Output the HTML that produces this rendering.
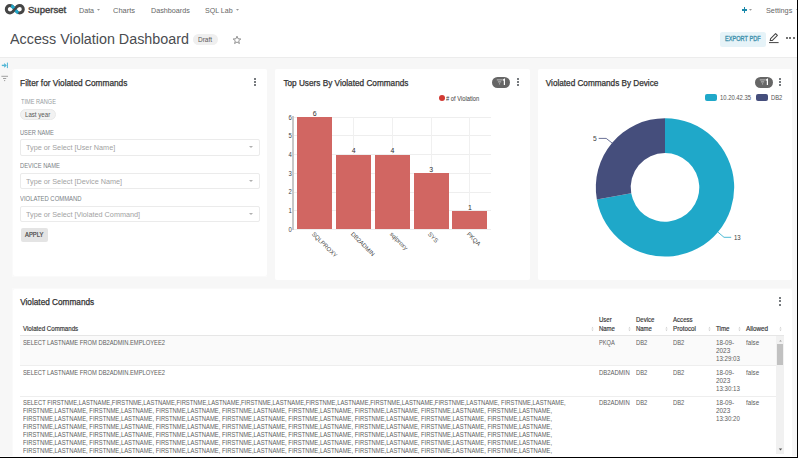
<!DOCTYPE html>
<html><head><meta charset="utf-8"><title>Access Violation Dashboard</title>
<style>
html,body{margin:0;padding:0;}
body{width:798px;height:458px;overflow:hidden;position:relative;background:#f7f7f7;font-family:"Liberation Sans",sans-serif;}
.t{position:absolute;white-space:nowrap;}
.r{position:absolute;}
svg{position:absolute;}
</style></head><body>

<div class="r" style="left:0px;top:0px;width:798px;height:57px;background:#ffffff;"></div>
<div class="r" style="left:0px;top:57px;width:798px;height:1px;background:#ececec;"></div>
<svg style="left:0;top:0" width="30" height="20" viewBox="0 0 30 20">
<path d="M10 5.6 C7.9 5.6 6.3 7.2 6.3 9.25 C6.3 11.3 7.9 12.9 10 12.9 C12.2 12.9 13.5 11.2 14.8 9.25 C16.1 7.3 17.4 5.6 19.6 5.6 C21.7 5.6 23.3 7.2 23.3 9.25 C23.3 11.3 21.7 12.9 19.6 12.9 C17.4 12.9 16.1 11.2 14.8 9.25 C13.5 7.3 12.2 5.6 10 5.6 Z" fill="none" stroke="#454545" stroke-width="3.0"/>
<path d="M11.2 5.75 C12.3 6.2 13.2 7.3 14.0 8.3" fill="none" stroke="#20a7c9" stroke-width="3.0"/>
<path d="M15.6 10.2 C16.4 11.2 17.3 12.3 18.4 12.75" fill="none" stroke="#20a7c9" stroke-width="3.0"/>
</svg>
<div class="t" style="left:27.80px;top:4.92px;font-size:9.9px;line-height:9.9px;color:#484848;transform:scaleX(0.9640);transform-origin:0 0;-webkit-text-stroke:0.45px #484848;">Superset</div>
<div class="t" style="left:78.60px;top:6.71px;font-size:7.9px;line-height:7.9px;color:#666666;transform:scaleX(0.9049);transform-origin:0 0;">Data</div>
<div class="t" style="left:113.30px;top:6.71px;font-size:7.9px;line-height:7.9px;color:#666666;transform:scaleX(0.9498);transform-origin:0 0;">Charts</div>
<div class="t" style="left:150.80px;top:6.71px;font-size:7.9px;line-height:7.9px;color:#666666;transform:scaleX(0.9108);transform-origin:0 0;">Dashboards</div>
<div class="t" style="left:205.30px;top:6.71px;font-size:7.9px;line-height:7.9px;color:#666666;transform:scaleX(0.8935);transform-origin:0 0;">SQL Lab</div>
<svg style="left:96.70px;top:9.30px" width="3.0" height="1.8" viewBox="0 0 3.0 1.8"><path d="M0 0 L3.0 0 L1.5 1.8 Z" fill="#999"/></svg>
<svg style="left:235.50px;top:9.30px" width="3.0" height="1.8" viewBox="0 0 3.0 1.8"><path d="M0 0 L3.0 0 L1.5 1.8 Z" fill="#999"/></svg>
<svg style="left:749.00px;top:9.10px" width="3.0" height="1.8" viewBox="0 0 3.0 1.8"><path d="M0 0 L3.0 0 L1.5 1.8 Z" fill="#999"/></svg>
<svg style="left:796.00px;top:9.10px" width="3.0" height="1.8" viewBox="0 0 3.0 1.8"><path d="M0 0 L3.0 0 L1.5 1.8 Z" fill="#999"/></svg>
<div class="r" style="left:741.8px;top:9.0px;width:5.300000000000068px;height:1.8000000000000007px;background:#1b89aa;"></div>
<div class="r" style="left:743.55px;top:7.1px;width:1.8000000000000682px;height:5.700000000000001px;background:#1b89aa;"></div>
<div class="t" style="left:766.40px;top:6.71px;font-size:7.9px;line-height:7.9px;color:#666666;transform:scaleX(0.9213);transform-origin:0 0;">Settings</div>
<div class="t" style="left:9.50px;top:32.35px;font-size:14.0px;line-height:14.0px;color:#4a4c50;transform:scaleX(1.0237);transform-origin:0 0;">Access Violation Dashboard</div>
<div class="r" style="left:193.3px;top:34.2px;width:24.5px;height:10.699999999999996px;background:#efefef;border-radius:5.5px;"></div>
<div class="t" style="left:198.40px;top:36.56px;font-size:6.9px;line-height:6.9px;color:#595959;transform:scaleX(0.9430);transform-origin:0 0;">Draft</div>
<svg style="left:232px;top:35px" width="10" height="10" viewBox="0 0 10 10"><path d="M5 1.2 L6.1 3.8 L8.8 4.0 L6.7 5.8 L7.4 8.5 L5 7.0 L2.6 8.5 L3.3 5.8 L1.2 4.0 L3.9 3.8 Z" fill="none" stroke="#777" stroke-width="0.8" stroke-linejoin="round"/></svg>
<div class="r" style="left:719.6px;top:31.8px;width:46.19999999999993px;height:14.999999999999996px;background:#e6f3f8;border-radius:2.5px;"></div>
<div class="t" style="left:724.60px;top:35.37px;font-size:7.0px;line-height:7.0px;color:#388eab;transform:scaleX(0.8004);transform-origin:0 0;-webkit-text-stroke:0.3px #388eab;">EXPORT PDF</div>
<svg style="left:767px;top:32px" width="13" height="12" viewBox="0 0 13 12"><path d="M3.2 8.6 L3.6 6.6 L8.6 1.6 L10.4 3.4 L5.4 8.4 Z" fill="none" stroke="#444" stroke-width="1.05" stroke-linejoin="round"/><path d="M2 10.6 L11.6 10.6" stroke="#444" stroke-width="1.0"/></svg>
<div class="r" style="left:785.90px;top:37.1px;width:2.0px;height:2.0px;border-radius:50%;background:#444"></div>
<div class="r" style="left:789.30px;top:37.1px;width:2.0px;height:2.0px;border-radius:50%;background:#444"></div>
<div class="r" style="left:792.80px;top:37.1px;width:2.0px;height:2.0px;border-radius:50%;background:#444"></div>
<svg style="left:0;top:60px" width="12" height="24" viewBox="0 0 12 24"><path d="M1.8 5.4 L4.6 5.4" stroke="#4fb5d5" stroke-width="1.4"/><path d="M4.2 3.0 L6.8 5.4 L4.2 7.8 Z" fill="#4fb5d5"/><path d="M7.4 2.6 L7.4 8.1" stroke="#4fb5d5" stroke-width="1.0"/>
<path d="M1.4 16.3 L8.0 16.3 M3.0 18.5 L6.2 18.5 M4.0 20.6 L5.2 20.6" stroke="#8a8a8a" stroke-width="0.8"/></svg>
<div class="r" style="left:12px;top:69px;width:1px;height:208px;background:#fafafa;"></div>
<div class="r" style="left:13px;top:69px;width:254px;height:207px;background:#ffffff;border-radius:2px;"></div>
<div class="r" style="left:13px;top:276px;width:254px;height:1px;background:#fafafa;"></div>
<div class="r" style="left:275px;top:69px;width:255px;height:211px;background:#ffffff;border-radius:2px;"></div>
<div class="r" style="left:538px;top:69px;width:254px;height:211px;background:#ffffff;border-radius:2px;"></div>
<div class="r" style="left:12px;top:288px;width:1px;height:170px;background:#fafafa;"></div>
<div class="r" style="left:12px;top:288px;width:780px;height:1px;background:#fafafa;"></div>
<div class="r" style="left:13px;top:289px;width:779px;height:169px;background:#ffffff;border-radius:2px;"></div>
<div class="t" style="left:20.10px;top:78.87px;font-size:8.3px;line-height:8.3px;color:#333333;-webkit-text-stroke:0.25px #333;">Filter for Violated Commands</div>
<div class="r" style="left:254.20px;top:78.30px;width:2.0px;height:2.0px;border-radius:50%;background:#4a4f55"></div>
<div class="r" style="left:254.20px;top:81.30px;width:2.0px;height:2.0px;border-radius:50%;background:#4a4f55"></div>
<div class="r" style="left:254.20px;top:84.30px;width:2.0px;height:2.0px;border-radius:50%;background:#4a4f55"></div>
<div class="t" style="left:20.60px;top:99.10px;font-size:6.5px;line-height:6.5px;color:#969ca0;transform:scaleX(0.8628);transform-origin:0 0;">TIME RANGE</div>
<div class="r" style="left:20px;top:108.8px;width:36px;height:11.400000000000006px;background:#f2f2f2;border-radius:6px;box-sizing:border-box;border:0.8px solid #e9e9e9;"></div>
<div class="t" style="left:25.20px;top:111.84px;font-size:6.8px;line-height:6.8px;color:#5a5a5a;transform:scaleX(0.9009);transform-origin:0 0;">Last year</div>
<div class="t" style="left:20.40px;top:129.90px;font-size:6.5px;line-height:6.5px;color:#7a8186;transform:scaleX(0.8772);transform-origin:0 0;">USER NAME</div>
<div class="t" style="left:20.30px;top:162.90px;font-size:6.5px;line-height:6.5px;color:#7a8186;transform:scaleX(0.8909);transform-origin:0 0;">DEVICE NAME</div>
<div class="t" style="left:20.20px;top:196.20px;font-size:6.5px;line-height:6.5px;color:#7a8186;transform:scaleX(0.9074);transform-origin:0 0;">VIOLATED COMMAND</div>
<div class="r" style="left:20px;top:139.3px;width:239.5px;height:16.7px;box-sizing:border-box;border:1.1px solid #ebebeb;border-radius:2px;background:#fff"></div>
<div class="t" style="left:25.90px;top:144.37px;font-size:7.6px;line-height:7.6px;color:#a2a2a2;transform:scaleX(0.9566);transform-origin:0 0;">Type or Select [User Name]</div>
<svg style="left:249.00px;top:146.45px" width="4.0" height="2.0" viewBox="0 0 4.0 2.0"><path d="M0 0 L4.0 0 L2.0 2.0 Z" fill="#b0b0b0"/></svg>
<div class="r" style="left:20px;top:172.6px;width:239.5px;height:16.8px;box-sizing:border-box;border:1.1px solid #ebebeb;border-radius:2px;background:#fff"></div>
<div class="t" style="left:25.90px;top:177.67px;font-size:7.6px;line-height:7.6px;color:#a2a2a2;transform:scaleX(0.9566);transform-origin:0 0;">Type or Select [Device Name]</div>
<svg style="left:249.00px;top:179.80px" width="4.0" height="2.0" viewBox="0 0 4.0 2.0"><path d="M0 0 L4.0 0 L2.0 2.0 Z" fill="#b0b0b0"/></svg>
<div class="r" style="left:20px;top:205.6px;width:239.5px;height:16.7px;box-sizing:border-box;border:1.1px solid #ebebeb;border-radius:2px;background:#fff"></div>
<div class="t" style="left:25.90px;top:210.67px;font-size:7.6px;line-height:7.6px;color:#a2a2a2;transform:scaleX(0.9566);transform-origin:0 0;">Type or Select [Violated Command]</div>
<svg style="left:249.00px;top:212.75px" width="4.0" height="2.0" viewBox="0 0 4.0 2.0"><path d="M0 0 L4.0 0 L2.0 2.0 Z" fill="#b0b0b0"/></svg>
<div class="r" style="left:20.5px;top:228px;width:27.700000000000003px;height:13.699999999999989px;background:#e4e4e4;border-radius:2px;"></div>
<div class="t" style="left:25.00px;top:232.11px;font-size:6.6px;line-height:6.6px;color:#444;transform:scaleX(0.8850);transform-origin:0 0;-webkit-text-stroke:0.2px #444;">APPLY</div>
<div class="t" style="left:283.40px;top:79.94px;font-size:8.22px;line-height:8.22px;color:#333333;-webkit-text-stroke:0.25px #333;">Top Users By Violated Commands</div>
<div class="r" style="left:491.9px;top:76.8px;width:18.100000000000023px;height:11.200000000000003px;background:#666666;border-radius:6px;"></div>
<svg style="left:491.90px;top:76.80px" width="18.10" height="11.20" viewBox="0 0 18.10 11.20"><path d="M4.8 2.9 L10.3 2.9 M5.9 4.9 L9.2 4.9 M7.0 6.9 L8.1 6.9" stroke="#d8d8d8" stroke-width="0.8"/><path d="M10.8 3.3 L12.4 2.3 L12.4 8.1" fill="none" stroke="#fff" stroke-width="1.2" stroke-linejoin="miter"/></svg>
<div class="r" style="left:517.40px;top:78.30px;width:2.0px;height:2.0px;border-radius:50%;background:#4a4f55"></div>
<div class="r" style="left:517.40px;top:81.30px;width:2.0px;height:2.0px;border-radius:50%;background:#4a4f55"></div>
<div class="r" style="left:517.40px;top:84.30px;width:2.0px;height:2.0px;border-radius:50%;background:#4a4f55"></div>
<div class="r" style="left:438.8px;top:95.4px;width:6.0px;height:6.0px;border-radius:50%;background:#d23a33"></div>
<div class="t" style="left:445.80px;top:95.91px;font-size:6.6px;line-height:6.6px;color:#3a3a3a;transform:scaleX(0.8727);transform-origin:0 0;"># of Violation</div>
<div class="r" style="left:294px;top:229.0px;width:197.3px;height:1.0px;background:#eeeeee;"></div>
<div class="r" style="left:294px;top:210.3px;width:197.3px;height:1.0px;background:#eeeeee;"></div>
<div class="r" style="left:294px;top:191.6px;width:197.3px;height:1.0px;background:#eeeeee;"></div>
<div class="r" style="left:294px;top:172.8px;width:197.3px;height:1.0px;background:#eeeeee;"></div>
<div class="r" style="left:294px;top:154.1px;width:197.3px;height:1.0px;background:#eeeeee;"></div>
<div class="r" style="left:294px;top:135.4px;width:197.3px;height:1.0px;background:#eeeeee;"></div>
<div class="r" style="left:294px;top:116.7px;width:197.3px;height:1.0px;background:#eeeeee;"></div>
<div class="r" style="left:314.3px;top:117.18px;width:1.0px;height:112.32px;background:#f0f0f0;"></div>
<div class="r" style="left:353.08000000000004px;top:117.18px;width:1.0px;height:112.32px;background:#f0f0f0;"></div>
<div class="r" style="left:391.86px;top:117.18px;width:1.0px;height:112.32px;background:#f0f0f0;"></div>
<div class="r" style="left:430.64px;top:117.18px;width:1.0px;height:112.32px;background:#f0f0f0;"></div>
<div class="r" style="left:469.42px;top:117.18px;width:1.0px;height:112.32px;background:#f0f0f0;"></div>
<div class="r" style="left:292.3px;top:116.18px;width:1.599999999999966px;height:113.82px;background:#c8c8c8;"></div>
<div class="t" style="right:506.70px;top:226.84px;font-size:6.8px;line-height:6.8px;color:#444;transform:scaleX(0.8726);transform-origin:100% 0;">0</div>
<div class="t" style="right:506.70px;top:208.12px;font-size:6.8px;line-height:6.8px;color:#444;transform:scaleX(0.8726);transform-origin:100% 0;">1</div>
<div class="t" style="right:506.70px;top:189.40px;font-size:6.8px;line-height:6.8px;color:#444;transform:scaleX(0.8726);transform-origin:100% 0;">2</div>
<div class="t" style="right:506.70px;top:170.68px;font-size:6.8px;line-height:6.8px;color:#444;transform:scaleX(0.8726);transform-origin:100% 0;">3</div>
<div class="t" style="right:506.70px;top:151.96px;font-size:6.8px;line-height:6.8px;color:#444;transform:scaleX(0.8726);transform-origin:100% 0;">4</div>
<div class="t" style="right:506.70px;top:133.24px;font-size:6.8px;line-height:6.8px;color:#444;transform:scaleX(0.8726);transform-origin:100% 0;">5</div>
<div class="t" style="right:506.70px;top:114.52px;font-size:6.8px;line-height:6.8px;color:#444;transform:scaleX(0.8726);transform-origin:100% 0;">6</div>
<div class="r" style="left:297.3px;top:117.2px;width:35.099999999999966px;height:112.3px;background:#d16662;"></div>
<div class="t" style="left:264.80px;width:100px;text-align:center;top:110.05px;font-size:7.0px;line-height:7.0px;color:#333;">6</div>
<div class="t" style="left:315.00px;top:231.40px;font-size:6px;line-height:6px;color:#4a4a4a;transform-origin:0 0;transform:rotate(45deg);">SQLPROXY</div>
<div class="r" style="left:336.1px;top:154.6px;width:35.099999999999966px;height:74.9px;background:#d16662;"></div>
<div class="t" style="left:303.58px;width:100px;text-align:center;top:147.49px;font-size:7.0px;line-height:7.0px;color:#333;">4</div>
<div class="t" style="left:353.78px;top:231.40px;font-size:6px;line-height:6px;color:#4a4a4a;transform-origin:0 0;transform:rotate(45deg);">DB2ADMIN</div>
<div class="r" style="left:374.9px;top:154.6px;width:35.10000000000002px;height:74.9px;background:#d16662;"></div>
<div class="t" style="left:342.36px;width:100px;text-align:center;top:147.49px;font-size:7.0px;line-height:7.0px;color:#333;">4</div>
<div class="t" style="left:392.56px;top:231.40px;font-size:6px;line-height:6px;color:#4a4a4a;transform-origin:0 0;transform:rotate(45deg);">sqlproxy</div>
<div class="r" style="left:413.6px;top:173.3px;width:35.099999999999966px;height:56.19999999999999px;background:#d16662;"></div>
<div class="t" style="left:381.14px;width:100px;text-align:center;top:166.21px;font-size:7.0px;line-height:7.0px;color:#333;">3</div>
<div class="t" style="left:431.34px;top:231.40px;font-size:6px;line-height:6px;color:#4a4a4a;transform-origin:0 0;transform:rotate(45deg);">SYS</div>
<div class="r" style="left:452.4px;top:210.8px;width:35.10000000000002px;height:18.69999999999999px;background:#d16662;"></div>
<div class="t" style="left:419.92px;width:100px;text-align:center;top:203.65px;font-size:7.0px;line-height:7.0px;color:#333;">1</div>
<div class="t" style="left:470.12px;top:231.40px;font-size:6px;line-height:6px;color:#4a4a4a;transform-origin:0 0;transform:rotate(45deg);">PKQA</div>
<div class="t" style="left:545.80px;top:79.97px;font-size:8.18px;line-height:8.18px;color:#333333;-webkit-text-stroke:0.25px #333;">Violated Commands By Device</div>
<div class="r" style="left:754.7px;top:76.8px;width:18.09999999999991px;height:11.200000000000003px;background:#666666;border-radius:6px;"></div>
<svg style="left:754.70px;top:76.80px" width="18.10" height="11.20" viewBox="0 0 18.10 11.20"><path d="M4.8 2.9 L10.3 2.9 M5.9 4.9 L9.2 4.9 M7.0 6.9 L8.1 6.9" stroke="#d8d8d8" stroke-width="0.8"/><path d="M10.8 3.3 L12.4 2.3 L12.4 8.1" fill="none" stroke="#fff" stroke-width="1.2" stroke-linejoin="miter"/></svg>
<div class="r" style="left:779.40px;top:78.30px;width:2.0px;height:2.0px;border-radius:50%;background:#4a4f55"></div>
<div class="r" style="left:779.40px;top:81.30px;width:2.0px;height:2.0px;border-radius:50%;background:#4a4f55"></div>
<div class="r" style="left:779.40px;top:84.30px;width:2.0px;height:2.0px;border-radius:50%;background:#4a4f55"></div>
<div class="r" style="left:704.5px;top:94px;width:12.200000000000045px;height:6.5px;background:#1fa8c9;border-radius:2px;"></div>
<div class="t" style="left:719.70px;top:95.11px;font-size:6.6px;line-height:6.6px;color:#555;transform:scaleX(0.8920);transform-origin:0 0;">10.20.42.35</div>
<div class="r" style="left:756px;top:94px;width:12px;height:6.5px;background:#454e7c;border-radius:2px;"></div>
<div class="t" style="left:770.70px;top:95.11px;font-size:6.6px;line-height:6.6px;color:#555;transform:scaleX(0.8801);transform-origin:0 0;">DB2</div>
<svg style="left:538px;top:69px" width="254" height="211" viewBox="0 0 254 211">
<path d="M127.00 49.20 A69.2 69.2 0 1 1 58.85 130.42 L93.22 124.36 A34.3 34.3 0 1 0 127.00 84.10 Z" fill="#1fa8c9"/>
<path d="M58.85 130.42 A69.2 69.2 0 0 1 127.00 49.20 L127.00 84.10 A34.3 34.3 0 0 0 93.22 124.36 Z" fill="#454e7c"/>
<path d="M60.700000000000045 69.4 L68.20000000000005 69.4 L74.79999999999995 74.6" fill="none" stroke="#454e7c" stroke-width="0.8"/>
<path d="M180.0 163.2 L186 168.3 L193.20000000000005 168.3" fill="none" stroke="#1fa8c9" stroke-width="0.8"/>
</svg>
<div class="t" style="left:593.00px;top:134.77px;font-size:7.6px;line-height:7.6px;color:#3a3a3a;transform:scaleX(0.8753);transform-origin:0 0;">5</div>
<div class="t" style="left:733.60px;top:233.57px;font-size:7.6px;line-height:7.6px;color:#3a3a3a;transform:scaleX(0.7925);transform-origin:0 0;">13</div>
<div class="t" style="left:20.20px;top:299.22px;font-size:8.24px;line-height:8.24px;color:#333333;-webkit-text-stroke:0.25px #333;">Violated Commands</div>
<div class="r" style="left:779.40px;top:297.00px;width:2.0px;height:2.0px;border-radius:50%;background:#4a4f55"></div>
<div class="r" style="left:779.40px;top:300.25px;width:2.0px;height:2.0px;border-radius:50%;background:#4a4f55"></div>
<div class="r" style="left:779.40px;top:303.50px;width:2.0px;height:2.0px;border-radius:50%;background:#4a4f55"></div>
<div class="t" style="left:22.80px;top:325.67px;font-size:6.3px;line-height:6.3px;color:#333;transform:scaleX(0.9750);transform-origin:0 0;-webkit-text-stroke:0.15px #333;">Violated Commands</div>
<svg style="left:591.20px;top:325.80px" width="3" height="6" viewBox="0 0 3 6"><path d="M0.4 2.6 L1.5 0.7 L2.6 2.6 Z M0.4 3.4 L1.5 5.3 L2.6 3.4 Z" fill="#d0d0d0"/></svg>
<svg style="left:627.50px;top:325.80px" width="3" height="6" viewBox="0 0 3 6"><path d="M0.4 2.6 L1.5 0.7 L2.6 2.6 Z M0.4 3.4 L1.5 5.3 L2.6 3.4 Z" fill="#d0d0d0"/></svg>
<svg style="left:664.90px;top:325.80px" width="3" height="6" viewBox="0 0 3 6"><path d="M0.4 2.6 L1.5 0.7 L2.6 2.6 Z M0.4 3.4 L1.5 5.3 L2.6 3.4 Z" fill="#d0d0d0"/></svg>
<svg style="left:707.70px;top:325.80px" width="3" height="6" viewBox="0 0 3 6"><path d="M0.4 2.6 L1.5 0.7 L2.6 2.6 Z M0.4 3.4 L1.5 5.3 L2.6 3.4 Z" fill="#d0d0d0"/></svg>
<svg style="left:737.90px;top:325.80px" width="3" height="6" viewBox="0 0 3 6"><path d="M0.4 2.6 L1.5 0.7 L2.6 2.6 Z M0.4 3.4 L1.5 5.3 L2.6 3.4 Z" fill="#d0d0d0"/></svg>
<svg style="left:778.90px;top:325.80px" width="3" height="6" viewBox="0 0 3 6"><path d="M0.4 2.6 L1.5 0.7 L2.6 2.6 Z M0.4 3.4 L1.5 5.3 L2.6 3.4 Z" fill="#d0d0d0"/></svg>
<div class="t" style="left:599.30px;top:317.17px;font-size:6.3px;line-height:6.3px;color:#333;transform:scaleX(0.9548);transform-origin:0 0;-webkit-text-stroke:0.15px #333;">User</div>
<div class="t" style="left:599.30px;top:325.67px;font-size:6.3px;line-height:6.3px;color:#333;transform:scaleX(0.9461);transform-origin:0 0;-webkit-text-stroke:0.15px #333;">Name</div>
<div class="t" style="left:635.90px;top:317.17px;font-size:6.3px;line-height:6.3px;color:#333;transform:scaleX(0.9503);transform-origin:0 0;-webkit-text-stroke:0.15px #333;">Device</div>
<div class="t" style="left:635.90px;top:325.67px;font-size:6.3px;line-height:6.3px;color:#333;transform:scaleX(0.9461);transform-origin:0 0;-webkit-text-stroke:0.15px #333;">Name</div>
<div class="t" style="left:673.20px;top:317.17px;font-size:6.3px;line-height:6.3px;color:#333;transform:scaleX(0.9652);transform-origin:0 0;-webkit-text-stroke:0.15px #333;">Access</div>
<div class="t" style="left:673.20px;top:325.67px;font-size:6.3px;line-height:6.3px;color:#333;transform:scaleX(0.9908);transform-origin:0 0;-webkit-text-stroke:0.15px #333;">Protocol</div>
<div class="t" style="left:716.10px;top:325.67px;font-size:6.3px;line-height:6.3px;color:#333;transform:scaleX(0.9734);transform-origin:0 0;-webkit-text-stroke:0.15px #333;">Time</div>
<div class="t" style="left:746.00px;top:325.67px;font-size:6.3px;line-height:6.3px;color:#333;transform:scaleX(0.9971);transform-origin:0 0;-webkit-text-stroke:0.15px #333;">Allowed</div>
<div class="r" style="left:20px;top:335px;width:764px;height:1px;background:#e6e6e6;"></div>
<div class="r" style="left:20px;top:336px;width:757px;height:29px;background:#fafafa;"></div>
<div class="r" style="left:20px;top:365px;width:757px;height:1px;background:#eeeeee;"></div>
<div class="r" style="left:20px;top:395.5px;width:757px;height:1.0px;background:#eeeeee;"></div>
<div class="t" style="left:23.10px;top:339.97px;font-size:6.3px;line-height:6.3px;color:#606060;transform:scaleX(0.9190);transform-origin:0 0;">SELECT LASTNAME FROM DB2ADMIN.EMPLOYEE2</div>
<div class="t" style="left:599.30px;top:339.97px;font-size:6.3px;line-height:6.3px;color:#606060;transform:scaleX(0.9025);transform-origin:0 0;">PKQA</div>
<div class="t" style="left:635.90px;top:339.97px;font-size:6.3px;line-height:6.3px;color:#606060;transform:scaleX(0.9220);transform-origin:0 0;">DB2</div>
<div class="t" style="left:673.10px;top:339.97px;font-size:6.3px;line-height:6.3px;color:#606060;transform:scaleX(0.9220);transform-origin:0 0;">DB2</div>
<div class="t" style="left:716.00px;top:339.97px;font-size:6.3px;line-height:6.3px;color:#606060;transform:scaleX(0.9993);transform-origin:0 0;">18-09-</div>
<div class="t" style="left:716.00px;top:348.07px;font-size:6.3px;line-height:6.3px;color:#606060;transform:scaleX(1.0132);transform-origin:0 0;">2023</div>
<div class="t" style="left:716.00px;top:356.17px;font-size:6.3px;line-height:6.3px;color:#606060;transform:scaleX(0.9746);transform-origin:0 0;">13:29:03</div>
<div class="t" style="left:746.00px;top:339.97px;font-size:6.3px;line-height:6.3px;color:#606060;transform:scaleX(0.9844);transform-origin:0 0;">false</div>
<div class="t" style="left:23.10px;top:369.87px;font-size:6.3px;line-height:6.3px;color:#606060;transform:scaleX(0.9190);transform-origin:0 0;">SELECT LASTNAME FROM DB2ADMIN.EMPLOYEE2</div>
<div class="t" style="left:599.30px;top:369.87px;font-size:6.3px;line-height:6.3px;color:#606060;transform:scaleX(0.9461);transform-origin:0 0;">DB2ADMIN</div>
<div class="t" style="left:635.90px;top:369.87px;font-size:6.3px;line-height:6.3px;color:#606060;transform:scaleX(0.9220);transform-origin:0 0;">DB2</div>
<div class="t" style="left:673.10px;top:369.87px;font-size:6.3px;line-height:6.3px;color:#606060;transform:scaleX(0.9220);transform-origin:0 0;">DB2</div>
<div class="t" style="left:716.00px;top:369.87px;font-size:6.3px;line-height:6.3px;color:#606060;transform:scaleX(0.9993);transform-origin:0 0;">18-09-</div>
<div class="t" style="left:716.00px;top:377.97px;font-size:6.3px;line-height:6.3px;color:#606060;transform:scaleX(1.0132);transform-origin:0 0;">2023</div>
<div class="t" style="left:716.00px;top:386.07px;font-size:6.3px;line-height:6.3px;color:#606060;transform:scaleX(0.9746);transform-origin:0 0;">13:30:13</div>
<div class="t" style="left:746.00px;top:369.87px;font-size:6.3px;line-height:6.3px;color:#606060;transform:scaleX(0.9844);transform-origin:0 0;">false</div>
<div class="t" style="left:599.30px;top:399.97px;font-size:6.3px;line-height:6.3px;color:#606060;transform:scaleX(0.9461);transform-origin:0 0;">DB2ADMIN</div>
<div class="t" style="left:635.90px;top:399.97px;font-size:6.3px;line-height:6.3px;color:#606060;transform:scaleX(0.9220);transform-origin:0 0;">DB2</div>
<div class="t" style="left:673.10px;top:399.97px;font-size:6.3px;line-height:6.3px;color:#606060;transform:scaleX(0.9220);transform-origin:0 0;">DB2</div>
<div class="t" style="left:716.00px;top:399.97px;font-size:6.3px;line-height:6.3px;color:#606060;transform:scaleX(0.9993);transform-origin:0 0;">18-09-</div>
<div class="t" style="left:716.00px;top:408.07px;font-size:6.3px;line-height:6.3px;color:#606060;transform:scaleX(1.0132);transform-origin:0 0;">2023</div>
<div class="t" style="left:716.00px;top:416.17px;font-size:6.3px;line-height:6.3px;color:#606060;transform:scaleX(0.9746);transform-origin:0 0;">13:30:20</div>
<div class="t" style="left:746.00px;top:399.97px;font-size:6.3px;line-height:6.3px;color:#606060;transform:scaleX(0.9844);transform-origin:0 0;">false</div>
<div class="t" style="left:23.10px;top:399.97px;font-size:6.3px;line-height:6.3px;color:#606060;transform:scaleX(0.9279);transform-origin:0 0;">SELECT FIRSTNME,LASTNAME,FIRSTNME,LASTNAME,FIRSTNME,LASTNAME,FIRSTNME,LASTNAME,FIRSTNME,LASTNAME,FIRSTNME,LASTNAME,FIRSTNME,LASTNAME, FIRSTNME,LASTNAME,</div>
<div class="t" style="left:23.10px;top:408.04px;font-size:6.3px;line-height:6.3px;color:#606060;transform:scaleX(0.9295);transform-origin:0 0;">FIRSTNME,LASTNAME, FIRSTNME,LASTNAME, FIRSTNME,LASTNAME, FIRSTNME,LASTNAME, FIRSTNME,LASTNAME, FIRSTNME,LASTNAME, FIRSTNME,LASTNAME, FIRSTNME,LASTNAME,</div>
<div class="t" style="left:23.10px;top:416.11px;font-size:6.3px;line-height:6.3px;color:#606060;transform:scaleX(0.9295);transform-origin:0 0;">FIRSTNME,LASTNAME, FIRSTNME,LASTNAME, FIRSTNME,LASTNAME, FIRSTNME,LASTNAME, FIRSTNME,LASTNAME, FIRSTNME,LASTNAME, FIRSTNME,LASTNAME, FIRSTNME,LASTNAME,</div>
<div class="t" style="left:23.10px;top:424.18px;font-size:6.3px;line-height:6.3px;color:#606060;transform:scaleX(0.9295);transform-origin:0 0;">FIRSTNME,LASTNAME, FIRSTNME,LASTNAME, FIRSTNME,LASTNAME, FIRSTNME,LASTNAME, FIRSTNME,LASTNAME, FIRSTNME,LASTNAME, FIRSTNME,LASTNAME, FIRSTNME,LASTNAME,</div>
<div class="t" style="left:23.10px;top:432.25px;font-size:6.3px;line-height:6.3px;color:#606060;transform:scaleX(0.9295);transform-origin:0 0;">FIRSTNME,LASTNAME, FIRSTNME,LASTNAME, FIRSTNME,LASTNAME, FIRSTNME,LASTNAME, FIRSTNME,LASTNAME, FIRSTNME,LASTNAME, FIRSTNME,LASTNAME, FIRSTNME,LASTNAME,</div>
<div class="t" style="left:23.10px;top:440.32px;font-size:6.3px;line-height:6.3px;color:#606060;transform:scaleX(0.9295);transform-origin:0 0;">FIRSTNME,LASTNAME, FIRSTNME,LASTNAME, FIRSTNME,LASTNAME, FIRSTNME,LASTNAME, FIRSTNME,LASTNAME, FIRSTNME,LASTNAME, FIRSTNME,LASTNAME, FIRSTNME,LASTNAME,</div>
<div class="t" style="left:23.10px;top:448.39px;font-size:6.3px;line-height:6.3px;color:#606060;transform:scaleX(0.9295);transform-origin:0 0;">FIRSTNME,LASTNAME, FIRSTNME,LASTNAME, FIRSTNME,LASTNAME, FIRSTNME,LASTNAME, FIRSTNME,LASTNAME, FIRSTNME,LASTNAME, FIRSTNME,LASTNAME, FIRSTNME,LASTNAME,</div>
<div class="r" style="left:776.2px;top:336px;width:8.199999999999932px;height:118px;background:#f1f1f1;"></div>
<div class="r" style="left:777.2px;top:344.2px;width:6.199999999999932px;height:21.100000000000023px;background:#c1c1c1;"></div>
<svg style="left:777px;top:338px" width="7" height="5" viewBox="0 0 7 5"><path d="M2.2 3.4 L3.5 2.0 L4.8 3.4 Z" fill="#999"/></svg>
<svg style="left:777px;top:447px" width="7" height="5" viewBox="0 0 7 5"><path d="M1.8 1.4 L3.5 3.4 L5.2 1.4 Z" fill="#555"/></svg>
<div class="r" style="left:0px;top:456px;width:797px;height:1px;background:#ffffff;"></div>
<div class="r" style="left:797px;top:0px;width:1px;height:458px;background:#000000;"></div>
<div class="r" style="left:0px;top:457px;width:798px;height:1px;background:#000000;"></div>
</body></html>
